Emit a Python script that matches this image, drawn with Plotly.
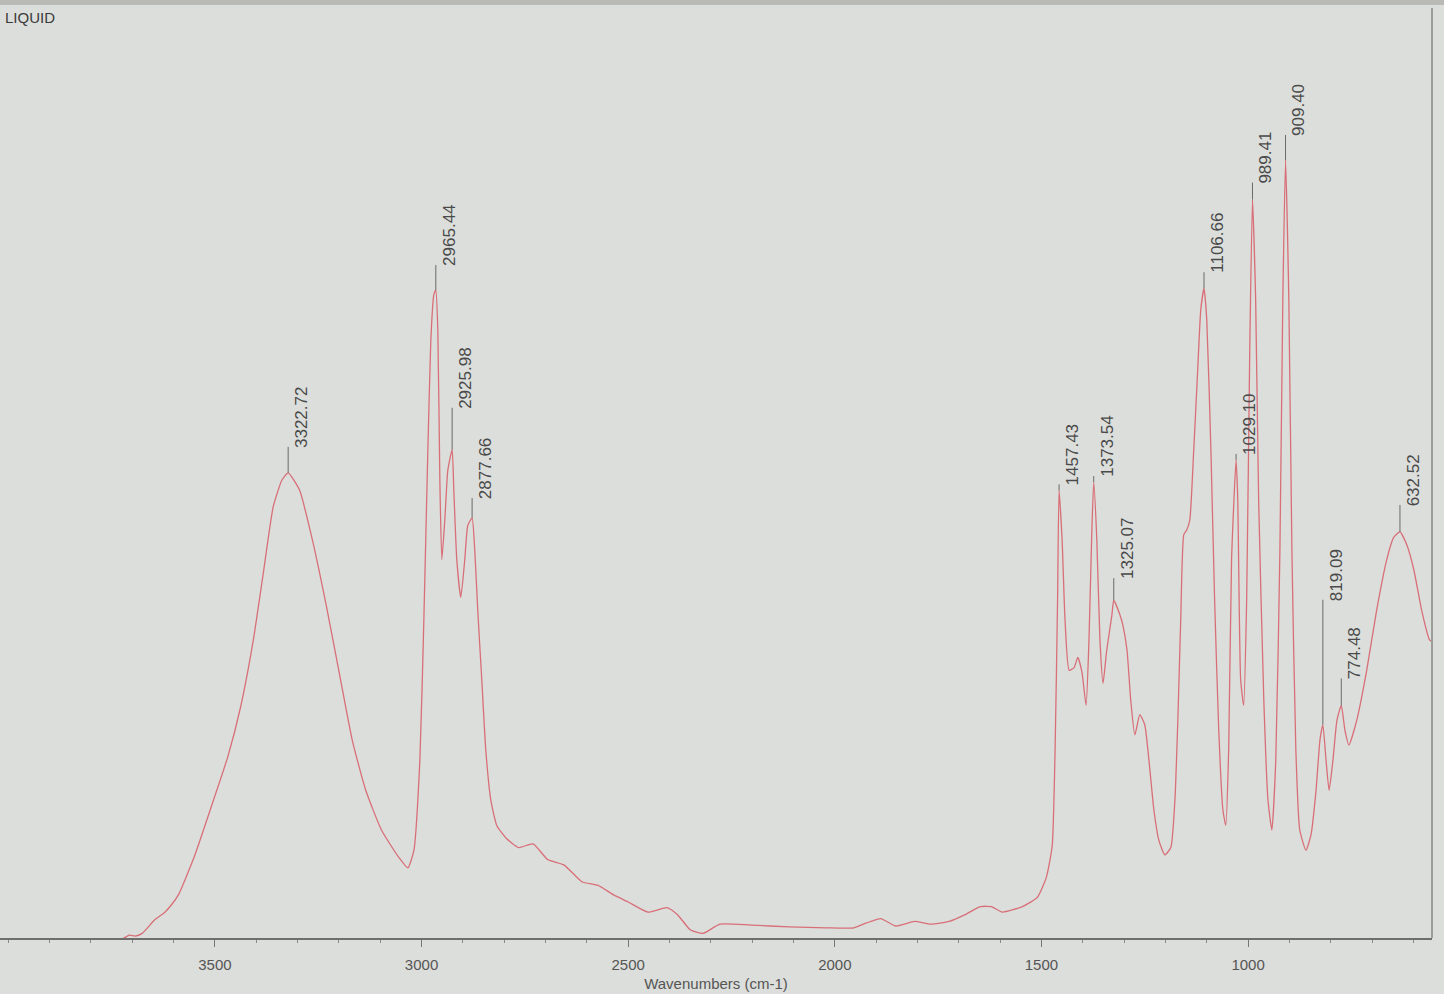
import plotly.graph_objects as go

# ---------------- data ----------------
wavenumber = [
    4010, 3915, 3819, 3748, 3724, 3707, 3693, 3676, 3645, 3621, 3605, 3588,
    3550, 3509, 3469, 3438, 3407, 3383, 3359, 3338, 3322.72, 3295, 3264, 3230,
    3199, 3168, 3135, 3097, 3056, 3033, 3018.5, 3004, 2994.4, 2984.7, 2977.5,
    2970.2, 2965.44, 2960.6, 2955.7, 2950.9, 2943.7, 2936.4, 2925.98, 2921.9,
    2914.7, 2905, 2895.4, 2888.1, 2877.66, 2871.2, 2864, 2854.3, 2844.6, 2832.5,
    2818, 2795, 2765, 2730, 2695, 2655, 2612, 2573, 2536, 2500, 2452, 2406,
    2380, 2350, 2319, 2278, 2203, 2111, 2020, 1954, 1925, 1889, 1853, 1807,
    1768, 1723, 1686, 1648, 1621, 1595, 1546, 1510, 1488, 1474, 1467, 1461,
    1457.43, 1450, 1443, 1433, 1421, 1412, 1402, 1392, 1385, 1378, 1373.54,
    1366, 1358.5, 1351, 1342, 1329.5, 1325.07, 1310, 1303, 1293, 1284, 1274,
    1262, 1250, 1240, 1228, 1216, 1201.5, 1187, 1177, 1170, 1163, 1155.6,
    1148.4, 1141, 1131.5, 1122, 1114.6, 1106.66, 1100, 1090, 1081, 1071, 1061,
    1054, 1047, 1040, 1029.10, 1025, 1018, 1010.7, 1003.5, 996, 989.41, 981.7,
    974.5, 962, 952, 942.5, 933, 923, 916, 909.40, 901.4, 894, 884.5, 875, 860,
    847.7, 835.6, 826, 819.09, 811.5, 804, 794.6, 785, 774.48, 765.6, 756, 737,
    713, 689, 664.5, 647.6, 632.52, 616, 599, 580, 561, 555,
]
absorbance = [
    -0.002, -0.003, -0.002, -0.002, -0.001, 0.003, 0.002, 0.005, 0.020, 0.028,
    0.036, 0.047, 0.088, 0.142, 0.196, 0.250, 0.323, 0.395, 0.467, 0.496, 0.504,
    0.485, 0.431, 0.359, 0.287, 0.215, 0.160, 0.117, 0.088, 0.076, 0.095, 0.193,
    0.345, 0.529, 0.648, 0.697, 0.702, 0.659, 0.496, 0.410, 0.453, 0.507, 0.529,
    0.485, 0.410, 0.369, 0.410, 0.447, 0.455, 0.420, 0.355, 0.280, 0.204, 0.150,
    0.122, 0.108, 0.098, 0.102, 0.085, 0.079, 0.061, 0.057, 0.047, 0.039, 0.028,
    0.033, 0.025, 0.009, 0.005, 0.015, 0.014, 0.012, 0.011, 0.011, 0.016, 0.021,
    0.013, 0.018, 0.015, 0.018, 0.025, 0.034, 0.034, 0.028, 0.034, 0.044, 0.066,
    0.100, 0.204, 0.366, 0.485, 0.431, 0.345, 0.290, 0.293, 0.304, 0.288, 0.252,
    0.323, 0.442, 0.494, 0.431, 0.323, 0.276, 0.312, 0.350, 0.366, 0.350, 0.339,
    0.312, 0.258, 0.220, 0.242, 0.231, 0.193, 0.139, 0.106, 0.090, 0.098, 0.150,
    0.236, 0.345, 0.437, 0.442, 0.453, 0.529, 0.615, 0.680, 0.704, 0.670, 0.529,
    0.366, 0.225, 0.139, 0.122, 0.204, 0.410, 0.518, 0.475, 0.280, 0.252, 0.366,
    0.637, 0.800, 0.691, 0.475, 0.258, 0.150, 0.117, 0.193, 0.420, 0.691, 0.843,
    0.691, 0.420, 0.204, 0.117, 0.095, 0.112, 0.160, 0.215, 0.231, 0.193, 0.160,
    0.193, 0.236, 0.252, 0.225, 0.209, 0.236, 0.290, 0.355, 0.410, 0.434, 0.440,
    0.426, 0.399, 0.355, 0.323, 0.321,
]

peak_labels = ["3322.72", "2965.44", "2925.98", "2877.66", "1457.43", "1373.54",
               "1325.07", "1106.66", "1029.10", "989.41", "909.40", "819.09",
               "774.48", "632.52"]

tick_values = [3500, 3000, 2500, 2000, 1500, 1000]
tick_text = ["3500", "3000", "2500", "2000", "1500", "1000"]

# styling only: length (px) of the little leader line above each peak
label_stem_px = [26, 25, 42, 20, 6, 6, 22, 16, 6, 17, 25, 125, 27, 27]

# ---------------- figure ----------------
BG = "#dcdedb"
LINE = "#d86f78"
TXT = "#4a4a4a"
FONT = "Liberation Sans, Arial, sans-serif"

fig = go.Figure()
fig.add_trace(go.Scatter(
    x=wavenumber, y=absorbance, mode="lines",
    line=dict(color=LINE, width=1.3, shape="spline", smoothing=0.5),
    hoverinfo="skip", showlegend=False,
))

lookup = {round(w, 2): a for w, a in zip(wavenumber, absorbance)}
shapes = []
annotations = []
for lab, stem in zip(peak_labels, label_stem_px):
    wn = float(lab)
    a = lookup[round(wn, 2)]
    shapes.append(dict(type="line", xref="x", yref="y", ysizemode="pixel",
                       yanchor=a, x0=wn, x1=wn, y0=0, y1=stem,
                       line=dict(color="#6a6a6a", width=1)))
    annotations.append(dict(x=wn, y=a, xref="x", yref="y", text=lab,
                            textangle=-90, showarrow=False,
                            xanchor="left", yanchor="bottom",
                            xshift=2, yshift=stem - 3,
                            font=dict(family=FONT, size=17, color=TXT)))

annotations.append(dict(x=0, y=1, xref="paper", yref="paper", text="LIQUID",
                        showarrow=False, xanchor="left", yanchor="top",
                        xshift=3, yshift=1,
                        font=dict(family=FONT, size=15, color="#3a3a3a")))

# window chrome: top bar and right frame edge
shapes.append(dict(type="rect", xref="paper", yref="paper", ysizemode="pixel",
                   yanchor=1, x0=0, x1=1.01, y0=3, y1=8,
                   fillcolor="#b9bab6", line=dict(width=0), layer="below"))
shapes.append(dict(type="line", xref="paper", yref="paper", x0=1, x1=1,
                   y0=0, y1=1, line=dict(color="#9c9d99", width=2)))

fig.update_layout(
    width=1444, height=994,
    margin=dict(l=0, r=12, t=8, b=56, autoexpand=False),
    paper_bgcolor=BG, plot_bgcolor=BG,
    shapes=shapes, annotations=annotations,
    font=dict(family=FONT, color=TXT),
    xaxis=dict(
        range=[4020, 555], showgrid=False, zeroline=False, automargin=False,
        showline=True, linecolor="#6e6f6c", linewidth=2,
        ticks="outside", ticklen=7, tickcolor="#777", tickwidth=1,
        tickvals=tick_values, ticktext=tick_text,
        tickfont=dict(family=FONT, size=15, color="#555"),
        ticklabelstandoff=5,
        minor=dict(dtick=100, tick0=0, ticks="outside", ticklen=3,
                   tickcolor="#888"),
        title=dict(text="Wavenumbers (cm-1)", standoff=6,
                   font=dict(family=FONT, size=15, color="#555")),
    ),
    yaxis=dict(range=[0, 1.0076], visible=False),
)

fig.write_html(
    "out.html",
    config={"displayModeBar": False},
    post_script="document.body.style.margin='0';document.body.style.background='#dcdedb';",
)
